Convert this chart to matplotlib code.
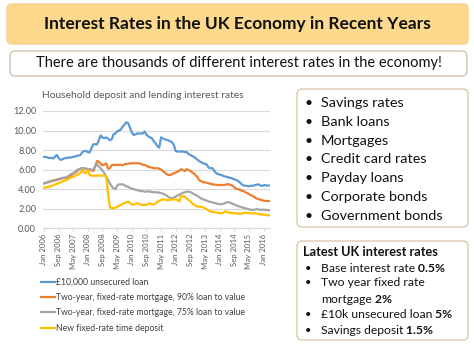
import matplotlib
matplotlib.use("Agg")
import matplotlib.pyplot as plt
from matplotlib.patches import FancyBboxPatch

plt.rcParams['font.family'] = ['Lato', 'DejaVu Sans']

# monthly values, Jan 2006 .. Apr 2016
unsecured_loan = [
    7.3, 7.3, 7.25, 7.2, 7.2, 7.15, 7.3, 7.5, 7.2, 7.0, 7.05, 7.15,
    7.2, 7.2, 7.25, 7.25, 7.3, 7.35, 7.4, 7.45, 7.5, 7.8, 7.9, 7.9,
    7.8, 7.75, 8.2, 8.6, 8.6, 8.6, 9.0, 9.5, 9.3, 9.2, 9.3, 9.2,
    9.0, 9.1, 9.6, 9.7, 9.9, 10.0, 10.1, 10.4, 10.6, 10.85, 10.75, 10.3,
    9.8, 9.55, 9.6, 9.7, 9.7, 9.7, 9.7, 9.9, 9.6, 9.4, 9.3, 9.2,
    8.9, 8.7, 8.4, 8.25, 9.3, 9.2, 9.1, 9.05, 9.0, 8.9, 8.8, 8.5,
    7.9, 7.85, 7.85, 7.85, 7.85, 7.8, 7.8, 7.6, 7.5, 7.4, 7.3, 7.15,
    7.0, 6.85, 6.75, 6.65, 6.6, 6.5, 6.2, 6.15, 6.15, 5.9, 5.65, 5.55,
    5.5, 5.45, 5.35, 5.3, 5.25, 5.2, 5.15, 5.1, 5.0, 4.95, 4.85, 4.7,
    4.5, 4.4, 4.35, 4.33, 4.3, 4.35, 4.35, 4.4, 4.45, 4.5, 4.4, 4.33,
    4.4, 4.43, 4.35, 4.38]

mortgage_90 = [
    4.6, 4.65, 4.7, 4.75, 4.8, 4.85, 4.9, 4.95, 5.0, 5.05, 5.1, 5.15,
    5.15, 5.2, 5.3, 5.45, 5.55, 5.7, 5.8, 6.0, 6.1, 6.14, 6.12, 6.08,
    6.05, 6.0, 5.95, 5.85, 6.3, 6.9, 6.8, 6.6, 6.45, 6.5, 6.65, 6.1,
    6.15, 6.45, 6.5, 6.48, 6.48, 6.5, 6.5, 6.45, 6.55, 6.6, 6.6, 6.65,
    6.65, 6.65, 6.65, 6.65, 6.65, 6.6, 6.5, 6.48, 6.4, 6.3, 6.25, 6.2,
    6.15, 6.15, 6.14, 6.1, 6.0, 5.86, 5.7, 5.55, 5.45, 5.45, 5.55, 5.63,
    5.7, 5.8, 5.9, 6.05, 5.95, 5.85, 6.05, 5.95, 5.9, 5.7, 5.6, 5.4,
    5.2, 4.9, 4.8, 4.72, 4.7, 4.65, 4.6, 4.55, 4.5, 4.48, 4.45, 4.43,
    4.43, 4.43, 4.42, 4.45, 4.5, 4.5, 4.45, 4.35, 4.2, 4.05, 4.0, 3.95,
    3.85, 3.8, 3.7, 3.6, 3.5, 3.4, 3.3, 3.2, 3.05, 3.0, 2.95, 2.88,
    2.83, 2.8, 2.8, 2.78]

mortgage_75 = [
    4.6, 4.65, 4.72, 4.8, 4.85, 4.9, 4.95, 5.0, 5.05, 5.1, 5.15, 5.18,
    5.2, 5.3, 5.45, 5.55, 5.65, 5.75, 5.95, 6.05, 6.1, 6.14, 6.12, 6.1,
    6.07, 6.05, 6.0, 5.97, 6.4, 6.55, 6.3, 6.14, 5.9, 5.63, 5.3, 4.95,
    4.6, 4.3, 4.1, 4.0, 4.36, 4.5, 4.5, 4.5, 4.4, 4.3, 4.25, 4.15,
    4.05, 4.0, 3.95, 3.9, 3.85, 3.8, 3.8, 3.75, 3.75, 3.8, 3.75, 3.7,
    3.7, 3.68, 3.68, 3.65, 3.6, 3.55, 3.45, 3.35, 3.2, 3.1, 3.07, 3.15,
    3.25, 3.35, 3.45, 3.55, 3.62, 3.7, 3.75, 3.75, 3.72, 3.6, 3.5, 3.4,
    3.3, 3.15, 3.05, 2.95, 2.9, 2.82, 2.75, 2.7, 2.65, 2.6, 2.56, 2.5,
    2.48, 2.45, 2.5, 2.6, 2.66, 2.66, 2.6, 2.5, 2.45, 2.35, 2.28, 2.22,
    2.15, 2.1, 2.05, 2.0, 1.95, 1.9, 1.88, 1.9, 1.95, 1.93, 1.9, 1.9,
    1.9, 1.88, 1.87, 1.86]

time_deposit = [
    4.15, 4.18, 4.22, 4.26, 4.32, 4.4, 4.48, 4.55, 4.62, 4.7, 4.77, 4.85,
    4.92, 5.0, 5.1, 5.2, 5.28, 5.35, 5.45, 5.55, 5.65, 5.97, 5.7, 5.63,
    5.97, 5.45, 5.4, 5.38, 5.38, 5.4, 5.4, 5.38, 5.38, 5.4, 5.3, 3.6,
    2.2, 2.05, 2.05, 2.1, 2.2, 2.3, 2.39, 2.5, 2.6, 2.66, 2.73, 2.6,
    2.45, 2.4, 2.5, 2.56, 2.5, 2.4, 2.38, 2.39, 2.4, 2.5, 2.56, 2.45,
    2.42, 2.55, 2.7, 2.8, 2.9, 2.97, 2.95, 2.9, 2.88, 2.9, 2.95, 2.97,
    2.95, 2.9, 2.75, 3.3, 3.3, 3.2, 3.05, 2.9, 2.75, 2.55, 2.4, 2.3,
    2.22, 2.22, 2.2, 2.15, 2.05, 1.95, 1.8, 1.72, 1.68, 1.65, 1.62, 1.6,
    1.55, 1.53, 1.6, 1.75, 1.65, 1.62, 1.58, 1.55, 1.53, 1.52, 1.52, 1.5,
    1.52, 1.55, 1.62, 1.58, 1.55, 1.52, 1.53, 1.55, 1.52, 1.45, 1.43, 1.42,
    1.4, 1.38, 1.35, 1.32]

series_names = ['£10,000 unsecured loan',
                'Two-year, fixed-rate mortgage, 90% loan to value',
                'Two-year, fixed-rate mortgage, 75% loan to value',
                'New fixed-rate time deposit']
tick_labels = ['Jan 2006', 'Sep 2006', 'May 2007', 'Jan 2008', 'Sep 2008',
               'May 2009', 'Jan 2010', 'Sep 2010', 'May 2011', 'Jan 2012',
               'Sep 2012', 'May 2013', 'Jan 2014', 'Sep 2014', 'May 2015',
               'Jan 2016']
bullets = ['Savings rates', 'Bank loans', 'Mortgages', 'Credit card rates',
           'Payday loans', 'Corporate bonds', 'Government bonds']
latest = [('Base interest rate', '0.5%'), ('Two year fixed rate', None),
          ('mortgage', '2%'), ('£10k unsecured loan', '5%'),
          ('Savings deposit', '1.5%')]

W, H = 474, 355
fig = plt.figure(figsize=(W / 100, H / 100), dpi=100)

# background layer in pixel units
bg = fig.add_axes([0, 0, 1, 1], zorder=0)
bg.set_xlim(0, W)
bg.set_ylim(H, 0)
bg.axis('off')
r = fig.canvas.get_renderer()


def fit(t, width):
    w = t.get_window_extent(r).width
    t.set_fontsize(t.get_fontsize() * width / w)
    return t.get_fontsize()


def box(x0, y0, x1, y1, fc, ec, lw=1.0):
    bg.add_patch(FancyBboxPatch((x0, y0), x1 - x0, y1 - y0,
                                boxstyle="round,pad=0,rounding_size=5",
                                fc=fc, ec=ec, lw=lw))


# header boxes
box(7, 4, 468, 44, '#FCD98D', '#F7D083')
t = bg.text(237.5, 24.5, 'Interest Rates in the UK Economy in Recent Years',
            ha='center', va='center', fontsize=13, fontweight='bold', color='#111111')
fit(t, 385)
box(10, 51, 467, 76, 'white', '#CDBFA6', 0.9)
t = bg.text(238.5, 63.5, 'There are thousands of different interest rates in the economy!',
            ha='center', va='center', fontsize=11, color='#111111')
fit(t, 402)

# right hand boxes
box(297, 89, 468, 227, 'white', '#D8C3A5', 0.9)
items = []
for i, s in enumerate(bullets):
    y = 103 + i * 18.8
    bg.text(305, y, '•', ha='left', va='center', fontsize=10, color='#111111')
    items.append(bg.text(321, y, s, ha='left', va='center', fontsize=11, color='#111111'))
fs = fit(items[-1], 122)
for tx in items:
    tx.set_fontsize(fs)

box(297, 241, 468, 340, 'white', '#D8C3A5', 0.9)
t = bg.text(303, 252, 'Latest UK interest rates', ha='left', va='center',
            fontsize=9.5, fontweight='bold', color='#111111')
fit(t, 135)
ys = [268, 283, 299.5, 315, 331]
for (s, b), y in zip(latest, ys):
    if s != 'mortgage':
        bg.text(305, y, '•', ha='left', va='center', fontsize=8, color='#111111')
    t = bg.text(321, y, s, ha='left', va='center', fontsize=8.7, color='#111111')
    if b:
        bg.annotate(' ' + b, xy=(1, 0), xycoords=t, ha='left', va='bottom',
                    fontsize=8.7, fontweight='bold', color='#111111')

# chart
t = bg.text(42, 95, 'Household deposit and lending interest rates', ha='left',
            va='center', fontsize=7.6, color='#595959')
fit(t, 201)

ax = fig.add_axes([43 / W, 1 - 228.3 / H, (270 - 43) / W, (228.3 - 111) / H], zorder=1)
ax.patch.set_alpha(0)
x = list(range(len(unsecured_loan)))
colors = ['#5B9BD5', '#ED7D31', '#A5A5A5', '#FFC000']
for ys_, c, n in zip([unsecured_loan, mortgage_90, mortgage_75, time_deposit], colors, series_names):
    ax.plot(x, ys_, color=c, lw=1.6, label=n)
ax.set_xlim(-0.5, len(x) - 0.5)
ax.set_ylim(0, 12)
ax.set_yticks(range(0, 13, 2))
ax.set_yticklabels(['%.2f' % v for v in range(0, 13, 2)])
ax.set_xticks(range(0, 121, 8))
ax.set_xticklabels(tick_labels, rotation=90)
ax.grid(axis='y', color='#D9D9D9', lw=0.8)
ax.set_axisbelow(True)
for s in ['top', 'right', 'left']:
    ax.spines[s].set_visible(False)
ax.spines['bottom'].set_color('#D9D9D9')
ax.tick_params(axis='y', length=0, pad=5, labelsize=6.6, labelcolor='#595959')
ax.tick_params(axis='x', length=2.5, color='#D9D9D9', pad=1.5, labelsize=5.6, labelcolor='#595959')

fig.legend(loc='upper left', bbox_to_anchor=(41 / W, 1 - 278 / H), frameon=False,
           fontsize=6.2, handlelength=1.6, handletextpad=0.15, labelspacing=0.72,
           borderaxespad=0, borderpad=0, labelcolor='#404040')

fig.savefig('out.png', dpi=100)
